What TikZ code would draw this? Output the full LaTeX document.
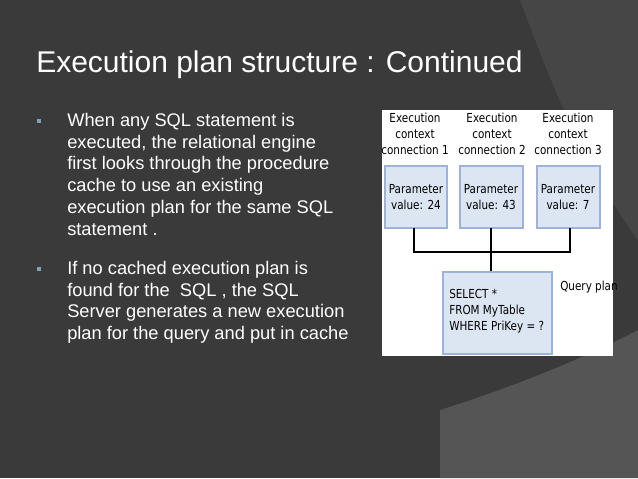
\documentclass[tikz,border=0pt]{standalone}
\usepackage{fontspec}
\setmainfont{Liberation Sans}
\newfontfamily\dgfont[FakeStretch=0.84]{DejaVu Sans}
\definecolor{bgA}{HTML}{3A3A3A}
\definecolor{bgB}{HTML}{464646}
\definecolor{bgC}{HTML}{555555}
\definecolor{boxfill}{HTML}{DCE6F3}
\definecolor{boxline}{HTML}{9DB3DA}
\definecolor{bul}{HTML}{7FA3B3}
\tikzset{
  pbox/.style={draw=boxline, fill=boxfill, line width=0.8pt},
  lbl/.style={font=\dgfont\fontsize{9.3}{12}\selectfont, align=center, text=black, inner sep=0},
  para/.style={font=\fontsize{13.7}{16.3}\selectfont, text=white, align=left, anchor=north west, inner sep=0},
  bullet/.style={fill=bul, minimum size=3.5pt, inner sep=0},
  conn/.style={draw=black, line width=1pt}
}
\begin{document}
\begin{tikzpicture}[x=0.75pt,y=-0.75pt]
\useasboundingbox (0,0) rectangle (638,478);
\fill[bgA] (0,0) rectangle (638,478);
\fill[bgB] (520,0) .. controls (550,80) and (580,160) .. (638,240) -- (638,0) -- cycle;
\fill[bgC] (440,478) -- (440,410) .. controls (520,385) and (590,355) .. (638,330) -- (638,478) -- cycle;
\node[anchor=base west, text=white, inner sep=0, font=\fontsize{22.5}{27}\selectfont] (title) at (36,72) {Execution plan structure : Continued};
\node[bullet] (b1) at (39,121) {};
\node[para] (p1) at (67,113) {When any SQL statement is\\executed, the relational engine\\first looks through the procedure\\cache to use an existing\\execution plan for the same SQL\\statement .};
\node[bullet] (b2) at (39,269) {};
\node[para] (p2) at (67,261) {If no cached execution plan is\\found for the \ SQL , the SQL\\Server generates a new execution\\plan for the query and put in cache};
\fill[white] (382,110) rectangle (613,356);
\node[lbl] (e1) at (415,134) {Execution\\context\\connection 1};
\node[lbl] (e2) at (492,134) {Execution\\context\\connection 2};
\node[lbl] (e3) at (568,134) {Execution\\context\\connection 3};
\draw[pbox] (385,166) rectangle (447,228);
\draw[pbox] (460,166) rectangle (523,228);
\draw[pbox] (537,166) rectangle (600,228);
\node[lbl] (v1) at (416,197) {Parameter\\value: 24};
\node[lbl] (v2) at (491,197) {Parameter\\value: 43};
\node[lbl] (v3) at (568,197) {Parameter\\value: 7};
\coordinate (c1) at (414,228);
\coordinate (c2) at (491,228);
\coordinate (c3) at (570,228);
\coordinate (q) at (491,272);
\draw[conn] (c1) |- (491,252) -| (c3);
\draw[conn] (c2) -- (q);
\draw[pbox] (443,272) rectangle (552,354);
\node[lbl, align=left, anchor=north west] (sql) at (449,289) {SELECT *\\FROM MyTable\\WHERE PriKey = ?};
\node[lbl, anchor=west] (qp) at (560,287) {Query plan};
\end{tikzpicture}
\end{document}
